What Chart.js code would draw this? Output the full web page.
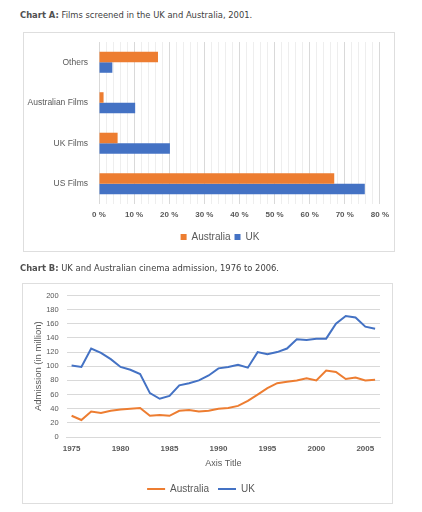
<!DOCTYPE html>
<html>
<head>
<meta charset="utf-8">
<script src="https://cdn.jsdelivr.net/npm/chart.js@4.4.1/dist/chart.umd.min.js"></script>
<style>
  body { margin: 0; background: #fff; width: 422px; height: 512px; position: relative; overflow: hidden; }
  .title { position: absolute; left: 20px; font-family: "DejaVu Sans", Verdana, sans-serif; font-size: 8.4px; color: #404040; white-space: nowrap; }
  .title b { color: #505050; }
  .frame { position: absolute; border: 1px solid #dedede; box-sizing: border-box; pointer-events: none; }
  canvas { position: absolute; }
</style>
</head>
<body>
<div class="title" style="top:10px"><b>Chart A:</b> Films screened in the UK and Australia, 2001.</div>
<canvas id="filmsChart" width="372" height="220" style="left:23px;top:32px"></canvas>
<div class="frame" style="left:23px;top:32px;width:372px;height:220px"></div>

<div class="title" style="top:263px"><b>Chart B:</b> UK and Australian cinema admission, 1976 to 2006.</div>
<canvas id="admissionChart" width="371" height="221" style="left:22px;top:283px"></canvas>
<div class="frame" style="left:22px;top:283px;width:371px;height:221px"></div>

<script>
// Chart A: share of films screened, 2001 (%)
const filmCategories = ['Others', 'Australian Films', 'UK Films', 'US Films'];
const filmsAustralia = [16.8, 1.3, 5.3, 67];
const filmsUK = [3.8, 10.3, 20.2, 75.7];

// Chart B: cinema admission (in million)
const years = ['1975', '1976', '1977', '1978', '1979', '1980', '1981', '1982', '1983', '1984',
               '1985', '1986', '1987', '1988', '1989', '1990', '1991', '1992', '1993', '1994',
               '1995', '1996', '1997', '1998', '1999', '2000', '2001', '2002', '2003', '2004',
               '2005', '2006'];
const admissionAustralia = [30, 24, 36, 34, 37, 39, 40, 41, 30, 31,
                            30, 37, 38, 36, 37, 40, 41, 44, 51, 60,
                            69, 76, 78, 80, 83, 80, 94, 92, 82, 84,
                            80, 81];
const admissionUK = [101, 99, 125, 119, 110, 99, 95, 89, 62, 54,
                     58, 73, 76, 80, 87, 97, 99, 102, 98, 120,
                     117, 120, 125, 138, 137, 139, 139, 160, 171, 169,
                     156, 153];

const orange = '#ED7D31';
const blue = '#4472C4';
const grey = '#595959';

Chart.defaults.font.family = 'Liberation Sans';
Chart.defaults.color = grey;
Chart.defaults.animation = false;

// the legend of chart A sits under the plot, not under the whole canvas
const shiftLegend = {
    id: 'shiftLegend',
    afterLayout(chart) {
        chart.legend.left += 18;
        chart.legend.right += 18;
    }
};

new Chart(document.getElementById('filmsChart'), {
    type: 'bar',
    data: {
        labels: filmCategories,
        datasets: [
            { label: 'Australia', data: filmsAustralia, backgroundColor: orange },
            { label: 'UK', data: filmsUK, backgroundColor: blue }
        ]
    },
    options: {
        indexAxis: 'y',
        responsive: false,
        categoryPercentage: 0.52,
        barPercentage: 1.0,
        layout: { padding: { left: 0, right: 14, top: 10, bottom: 0 } },
        plugins: {
            tooltip: { enabled: false },
            legend: {
                position: 'bottom',
                labels: { boxWidth: 6, boxHeight: 6, padding: 4, font: { size: 10 } }
            }
        },
        scales: {
            x: {
                min: 0,
                max: 80,
                afterFit: s => { s.height = 24; },
                border: { display: false },
                grid: {
                    drawTicks: false,
                    color: ctx => ctx.tick.value % 10 === 0 ? '#d9d9d9' : '#eeeeee'
                },
                ticks: {
                    stepSize: 2,
                    autoSkip: false,
                    maxRotation: 0,
                    minRotation: 0,
                    padding: 6,
                    font: { size: 8, weight: 'bold' },
                    callback: v => v % 10 === 0 ? v + ' %' : ''
                }
            },
            y: {
                afterFit: s => { s.width = 76; },
                border: { display: false },
                grid: { display: false },
                ticks: { padding: 3, font: { size: 8.5 } }
            }
        }
    },
    plugins: [shiftLegend]
});

new Chart(document.getElementById('admissionChart'), {
    type: 'line',
    data: {
        labels: years,
        datasets: [
            { label: 'Australia', data: admissionAustralia, borderColor: orange, backgroundColor: orange,
              borderWidth: 2, pointRadius: 0, tension: 0 },
            { label: 'UK', data: admissionUK, borderColor: blue, backgroundColor: blue,
              borderWidth: 2, pointRadius: 0, tension: 0 }
        ]
    },
    options: {
        responsive: false,
        layout: { padding: { left: 0, right: 13, top: 10, bottom: 0 } },
        plugins: {
            tooltip: { enabled: false },
            legend: {
                position: 'bottom',
                labels: { usePointStyle: true, pointStyle: 'line', pointStyleWidth: 18, padding: 9, font: { size: 10 } }
            }
        },
        scales: {
            x: {
                offset: true,
                afterFit: s => { s.height = 38; },
                border: { color: '#d9d9d9' },
                grid: { display: false, drawTicks: false },
                ticks: {
                    autoSkip: false,
                    maxRotation: 0,
                    padding: 7,
                    font: { size: 8, weight: 'bold' },
                    callback: function (v) {
                        const y = this.getLabelForValue(v);
                        return Number(y) % 5 === 0 ? y : '';
                    }
                },
                title: { display: true, text: 'Axis Title', font: { size: 9 }, padding: { top: 0, bottom: 6 } }
            },
            y: {
                min: 0,
                max: 200,
                afterFit: s => { s.width = 44.7; },
                border: { display: false },
                grid: { color: '#d9d9d9', drawTicks: false },
                ticks: { stepSize: 20, padding: 8, font: { size: 7.5 } },
                title: { display: true, text: 'Admission (in million)', font: { size: 9.5 }, padding: { top: 11, bottom: 0 } }
            }
        }
    }
});
</script>
</body>
</html>
